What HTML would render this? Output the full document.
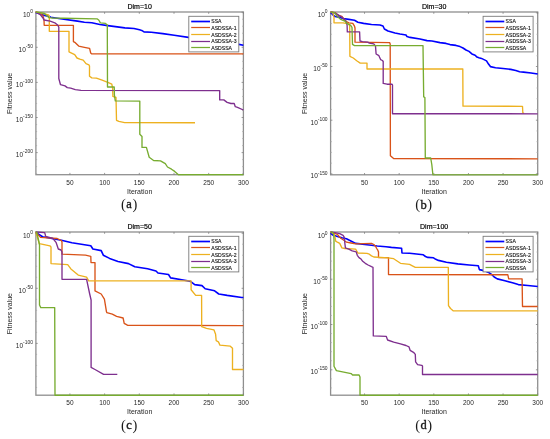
<!DOCTYPE html><html><head><meta charset="utf-8"><title>Convergence curves</title>
<style>html,body{margin:0;padding:0;background:#fff;}body{width:550px;height:439px;overflow:hidden;}svg{display:block;will-change:transform;}text{font-family:"Liberation Sans",sans-serif;}.cap{font-family:"Liberation Serif",serif;}</style></head><body>
<svg width="550" height="439" viewBox="0 0 550 439">
<rect width="550" height="439" fill="#fff"/>
<g><rect x="35.9" y="12" width="207.5" height="162.7" fill="#fff"/><clipPath id="c0"><rect x="34.9" y="11" width="209.5" height="164.7"/></clipPath><rect x="35.9" y="12" width="207.5" height="162.7" fill="none" stroke="#8f8f8f" stroke-width="1.3"/><path d="M69.91 174.7v-1.8M69.91 12v1.8M104.6 174.7v-1.8M104.6 12v1.8M139.3 174.7v-1.8M139.3 12v1.8M174 174.7v-1.8M174 12v1.8M208.7 174.7v-1.8M208.7 12v1.8M243.4 174.7v-1.8M243.4 12v1.8M35.9 12.2h1.8M243.4 12.2h-1.8M35.9 47.3h1.8M243.4 47.3h-1.8M35.9 82.4h1.8M243.4 82.4h-1.8M35.9 117.5h1.8M243.4 117.5h-1.8M35.9 152.6h1.8M243.4 152.6h-1.8" stroke="#808080" stroke-width="0.8" fill="none"/><path d="M35.9 19.22h1.2M243.4 19.22h-1.2M35.9 26.24h1.2M243.4 26.24h-1.2M35.9 33.26h1.2M243.4 33.26h-1.2M35.9 40.28h1.2M243.4 40.28h-1.2M35.9 54.32h1.2M243.4 54.32h-1.2M35.9 61.34h1.2M243.4 61.34h-1.2M35.9 68.36h1.2M243.4 68.36h-1.2M35.9 75.38h1.2M243.4 75.38h-1.2M35.9 89.42h1.2M243.4 89.42h-1.2M35.9 96.44h1.2M243.4 96.44h-1.2M35.9 103.46h1.2M243.4 103.46h-1.2M35.9 110.48h1.2M243.4 110.48h-1.2M35.9 124.52h1.2M243.4 124.52h-1.2M35.9 131.54h1.2M243.4 131.54h-1.2M35.9 138.56h1.2M243.4 138.56h-1.2M35.9 145.58h1.2M243.4 145.58h-1.2M35.9 159.62h1.2M243.4 159.62h-1.2M35.9 166.64h1.2M243.4 166.64h-1.2M35.9 173.66h1.2M243.4 173.66h-1.2" stroke="#a8a8a8" stroke-width="0.8" fill="none"/><g clip-path="url(#c0)" fill="none" stroke-linejoin="round" stroke-linecap="butt"><path d="M35.7 12.4 L43.4 15.1 L49.1 16.5 L50.8 17.3 L60.5 18.8 L77.5 21.1 L84.4 22.2 L91.8 22.8 L99.8 24.5 L107.8 25.6 L124.8 27.9 L134 28.5 L139.5 29.8 L141.7 30.4 L144 31.9 L151.4 32.3 L162.8 33.6 L174.2 35.3 L188.4 37.4 L214 40.5 L238.8 44.4 L243.4 45.3" stroke="#0000ff" stroke-width="1.6"/><path d="M35.7 12 L38.8 13.1 L42.8 15.4 L44 19.4 L44.2 25.3 L73.4 25.3 L73.4 41.6 L75.3 42.7 L78.7 46.1 L84.4 47.3 L89.6 48.4 L90.7 53 L91.8 53.9 L243.4 53.9" stroke="#d95319" stroke-width="1.35"/><path d="M35.7 12 L42.2 13.1 L48.5 14.8 L49.3 16 L49.3 31.3 L69 31.3 L69 51.8 L74.7 54.6 L77 58 L79.8 59.1 L83.2 60.2 L86 63.7 L88.9 64.8 L89.5 66 L89.5 76.2 L91.8 77.9 L96.4 78.2 L102.1 80.2 L107.8 82.4 L111.8 84.2 L112.6 88 L112.9 96.4 L116 97.5 L116.5 120.3 L118.9 121.4 L124.6 122.6 L195 122.7" stroke="#edb120" stroke-width="1.35"/><path d="M35.7 12 L40 14.3 L42.8 17.7 L44 20 L50.2 21.1 L54.8 22.8 L57.6 25.1 L58.8 27 L58.8 78.5 L60.5 84.7 L65 85.9 L67.3 87.6 L70.7 88.1 L75.3 89.6 L81 90.4 L219.7 90.6 L219.7 99.9 L223.8 99.9 L227.1 102.4 L230.9 103.5 L234.2 103.5 L235.3 106.7 L237.5 107.3 L243.4 110" stroke="#7e2f8e" stroke-width="1.35"/><path d="M35.7 12 L40 12.6 L44.5 13.5 L46.8 15.7 L49.1 17.7 L52.5 18 L97 18.8 L98.7 20 L100.4 22.8 L105.5 23.4 L107.3 25.1 L107.5 87 L114.2 87 L114.4 95 L115.3 100.9 L139.8 101.1 L139.8 134.3 L142 136.5 L142 147.4 L146.4 147.4 L149.2 157.2 L153.6 160.5 L160.5 160.9 L165.3 163.7 L167.5 167 L171.5 169.2 L174.7 171.4 L178.4 174.7 L243.4 174.7" stroke="#77ac30" stroke-width="1.35"/></g><text x="69.91" y="184.6" font-size="6.5" fill="#262626" text-anchor="middle">50</text><text x="104.6" y="184.6" font-size="6.5" fill="#262626" text-anchor="middle">100</text><text x="139.3" y="184.6" font-size="6.5" fill="#262626" text-anchor="middle">150</text><text x="174" y="184.6" font-size="6.5" fill="#262626" text-anchor="middle">200</text><text x="208.7" y="184.6" font-size="6.5" fill="#262626" text-anchor="middle">250</text><text x="243.4" y="184.6" font-size="6.5" fill="#262626" text-anchor="middle">300</text><text x="32.9" y="16.7" font-size="6.5" fill="#262626" text-anchor="end">10<tspan font-size="4.9" dy="-3.9">0</tspan></text><text x="32.9" y="51.8" font-size="6.5" fill="#262626" text-anchor="end">10<tspan font-size="4.9" dy="-3.9">-50</tspan></text><text x="32.9" y="86.9" font-size="6.5" fill="#262626" text-anchor="end">10<tspan font-size="4.9" dy="-3.9">-100</tspan></text><text x="32.9" y="122" font-size="6.5" fill="#262626" text-anchor="end">10<tspan font-size="4.9" dy="-3.9">-150</tspan></text><text x="32.9" y="157.1" font-size="6.5" fill="#262626" text-anchor="end">10<tspan font-size="4.9" dy="-3.9">-200</tspan></text><text x="139.65" y="8.8" font-size="7" fill="#000" font-weight="normal" stroke="#000" stroke-width="0.18" text-anchor="middle">Dim=10</text><text x="139.65" y="193.7" font-size="7" fill="#262626" text-anchor="middle">Iteration</text><text transform="translate(11.8 93.35) rotate(-90)" font-size="7" fill="#262626" text-anchor="middle" y="0">Fitness value</text><rect x="188.8" y="16.3" width="50" height="35.6" fill="#fff" stroke="#7a7a7a" stroke-width="0.9"/><path d="M191.2 21.5H210" stroke="#0000ff" stroke-width="1.7"/><text x="211.3" y="23.4" font-size="5.1" fill="#111" stroke="#111" stroke-width="0.12">SSA</text><path d="M191.2 27.5H210" stroke="#d95319" stroke-width="1.25"/><text x="211.3" y="30.05" font-size="5.1" fill="#111" stroke="#111" stroke-width="0.12">ASDSSA-1</text><path d="M191.2 34.5H210" stroke="#edb120" stroke-width="1.25"/><text x="211.3" y="36.7" font-size="5.1" fill="#111" stroke="#111" stroke-width="0.12">ASDSSA-2</text><path d="M191.2 41.5H210" stroke="#7e2f8e" stroke-width="1.25"/><text x="211.3" y="43.35" font-size="5.1" fill="#111" stroke="#111" stroke-width="0.12">ASDSSA-3</text><path d="M191.2 47.5H210" stroke="#77ac30" stroke-width="1.25"/><text x="211.3" y="50" font-size="5.1" fill="#111" stroke="#111" stroke-width="0.12">ASDSSA</text><text class="cap" x="129.15" y="209.2" font-size="14.5" fill="#1a1a1a" text-anchor="middle">(<tspan font-size="12.5" font-weight="normal" dx="0.3" dy="-0.8" stroke="#1a1a1a" stroke-width="0.35">a</tspan><tspan dx="0.6" dy="0.8">)</tspan></text></g>
<g><rect x="330.6" y="12" width="207.1" height="162.8" fill="#fff"/><clipPath id="c1"><rect x="329.6" y="11" width="209.1" height="164.8"/></clipPath><rect x="330.6" y="12" width="207.1" height="162.8" fill="none" stroke="#8f8f8f" stroke-width="1.3"/><path d="M364.54 174.8v-1.8M364.54 12v1.8M399.17 174.8v-1.8M399.17 12v1.8M433.8 174.8v-1.8M433.8 12v1.8M468.44 174.8v-1.8M468.44 12v1.8M503.07 174.8v-1.8M503.07 12v1.8M537.7 174.8v-1.8M537.7 12v1.8M330.6 12.8h1.8M537.7 12.8h-1.8M330.6 66.5h1.8M537.7 66.5h-1.8M330.6 120.2h1.8M537.7 120.2h-1.8M330.6 173.9h1.8M537.7 173.9h-1.8" stroke="#808080" stroke-width="0.8" fill="none"/><path d="M330.6 23.54h1.2M537.7 23.54h-1.2M330.6 34.28h1.2M537.7 34.28h-1.2M330.6 45.02h1.2M537.7 45.02h-1.2M330.6 55.76h1.2M537.7 55.76h-1.2M330.6 77.24h1.2M537.7 77.24h-1.2M330.6 87.98h1.2M537.7 87.98h-1.2M330.6 98.72h1.2M537.7 98.72h-1.2M330.6 109.46h1.2M537.7 109.46h-1.2M330.6 130.94h1.2M537.7 130.94h-1.2M330.6 141.68h1.2M537.7 141.68h-1.2M330.6 152.42h1.2M537.7 152.42h-1.2M330.6 163.16h1.2M537.7 163.16h-1.2" stroke="#a8a8a8" stroke-width="0.8" fill="none"/><g clip-path="url(#c1)" fill="none" stroke-linejoin="round" stroke-linecap="butt"><path d="M330.6 12.5 L332.3 14.3 L335.1 16.5 L338.5 17.1 L343.1 18.5 L348.8 19.4 L354.5 20.3 L357.9 22.2 L363.6 23.4 L371.5 24.5 L380 25 L383 26 L384.4 29 L388 31 L395 33 L400 34 L406 35 L407 36.6 L410 37.4 L420 39 L427 40.6 L432 41 L440 42.6 L446 43.4 L450 44.6 L456 45.4 L460 46.6 L463 48 L466 50 L469 51.4 L471.9 53.9 L475.1 55.2 L477 57.1 L478.9 57.7 L481.5 58.4 L484 59.6 L486.5 60.9 L488.5 64.1 L490.4 66.6 L495.5 67.7 L503.1 68.5 L510.7 69.4 L515.8 70.5 L519.6 71.7 L523.5 72.1 L531.1 73 L537.7 74" stroke="#0000ff" stroke-width="1.6"/><path d="M330.6 12 L335.1 12.6 L338.5 15.4 L341.9 16.5 L344.2 19.4 L346.5 21.7 L348.8 22.8 L352.8 23.4 L354.5 26.2 L355 28 L355 42.2 L389.6 42.6 L390.2 44 L390.4 155.8 L393.6 158.6 L537.7 158.8" stroke="#d95319" stroke-width="1.35"/><path d="M330.6 12 L332.8 13.1 L334 17.1 L334 22.8 L343.1 22.8 L345.9 23.4 L348.8 23.9 L349.7 26 L349.9 56.3 L353.3 58 L356.7 60.8 L360.2 63.1 L367 63.1 L367 69 L462.8 68.8 L463 106.2 L522.5 106.3 L522.8 112.8 L524 113.2" stroke="#edb120" stroke-width="1.35"/><path d="M330.6 12 L335.1 13.1 L341.9 17.1 L345.9 21.1 L347.1 25.1 L347.3 31.9 L359.6 31.9 L360 41 L362.4 41.6 L368.1 42.2 L369.3 43.1 L373.8 43.9 L375.5 46.1 L376.1 54 L378.9 55.7 L380.7 59.7 L382.4 60.5 L383.2 61.5 L383.2 83.4 L387 84.2 L392.1 84.2 L392.5 85 L392.5 113.7 L537.7 113.8" stroke="#7e2f8e" stroke-width="1.35"/><path d="M330.6 12 L334.5 12.6 L337.4 16.5 L340.8 19.4 L344.8 21.1 L347.6 23.9 L350.5 25.1 L352 27.4 L352.5 44.4 L354.5 45.6 L423 45.6 L423.7 96.8 L424.9 97.5 L425.3 158 L430.7 158 L431.8 164.5 L432.9 174.8 L537.7 174.8" stroke="#77ac30" stroke-width="1.35"/></g><text x="364.54" y="184.7" font-size="6.5" fill="#262626" text-anchor="middle">50</text><text x="399.17" y="184.7" font-size="6.5" fill="#262626" text-anchor="middle">100</text><text x="433.8" y="184.7" font-size="6.5" fill="#262626" text-anchor="middle">150</text><text x="468.44" y="184.7" font-size="6.5" fill="#262626" text-anchor="middle">200</text><text x="503.07" y="184.7" font-size="6.5" fill="#262626" text-anchor="middle">250</text><text x="537.7" y="184.7" font-size="6.5" fill="#262626" text-anchor="middle">300</text><text x="327.6" y="17.3" font-size="6.5" fill="#262626" text-anchor="end">10<tspan font-size="4.9" dy="-3.9">0</tspan></text><text x="327.6" y="71" font-size="6.5" fill="#262626" text-anchor="end">10<tspan font-size="4.9" dy="-3.9">-50</tspan></text><text x="327.6" y="124.7" font-size="6.5" fill="#262626" text-anchor="end">10<tspan font-size="4.9" dy="-3.9">-100</tspan></text><text x="327.6" y="178.4" font-size="6.5" fill="#262626" text-anchor="end">10<tspan font-size="4.9" dy="-3.9">-150</tspan></text><text x="434.15" y="8.8" font-size="7" fill="#000" font-weight="normal" stroke="#000" stroke-width="0.18" text-anchor="middle">Dim=30</text><text x="434.15" y="193.8" font-size="7" fill="#262626" text-anchor="middle">Iteration</text><text transform="translate(306.5 93.4) rotate(-90)" font-size="7" fill="#262626" text-anchor="middle" y="0">Fitness value</text><rect x="483.1" y="16.3" width="50" height="35.6" fill="#fff" stroke="#7a7a7a" stroke-width="0.9"/><path d="M485.5 21.5H504.3" stroke="#0000ff" stroke-width="1.7"/><text x="505.6" y="23.4" font-size="5.1" fill="#111" stroke="#111" stroke-width="0.12">SSA</text><path d="M485.5 27.5H504.3" stroke="#d95319" stroke-width="1.25"/><text x="505.6" y="30.05" font-size="5.1" fill="#111" stroke="#111" stroke-width="0.12">ASDSSA-1</text><path d="M485.5 34.5H504.3" stroke="#edb120" stroke-width="1.25"/><text x="505.6" y="36.7" font-size="5.1" fill="#111" stroke="#111" stroke-width="0.12">ASDSSA-2</text><path d="M485.5 41.5H504.3" stroke="#7e2f8e" stroke-width="1.25"/><text x="505.6" y="43.35" font-size="5.1" fill="#111" stroke="#111" stroke-width="0.12">ASDSSA-3</text><path d="M485.5 47.5H504.3" stroke="#77ac30" stroke-width="1.25"/><text x="505.6" y="50" font-size="5.1" fill="#111" stroke="#111" stroke-width="0.12">ASDSSA</text><text class="cap" x="423.65" y="209.3" font-size="14.5" fill="#1a1a1a" text-anchor="middle">(<tspan font-size="12.5" font-weight="normal" dx="0.3" dy="-0.8" stroke="#1a1a1a" stroke-width="0.35">b</tspan><tspan dx="0.6" dy="0.8">)</tspan></text></g>
<g><rect x="35.9" y="232" width="207.5" height="163.2" fill="#fff"/><clipPath id="c2"><rect x="34.9" y="231" width="209.5" height="165.2"/></clipPath><rect x="35.9" y="232" width="207.5" height="163.2" fill="none" stroke="#8f8f8f" stroke-width="1.3"/><path d="M69.91 395.2v-1.8M69.91 232v1.8M104.6 395.2v-1.8M104.6 232v1.8M139.3 395.2v-1.8M139.3 232v1.8M174 395.2v-1.8M174 232v1.8M208.7 395.2v-1.8M208.7 232v1.8M243.4 395.2v-1.8M243.4 232v1.8M35.9 233.2h1.8M243.4 233.2h-1.8M35.9 288.3h1.8M243.4 288.3h-1.8M35.9 343.4h1.8M243.4 343.4h-1.8" stroke="#808080" stroke-width="0.8" fill="none"/><path d="M35.9 244.22h1.2M243.4 244.22h-1.2M35.9 255.24h1.2M243.4 255.24h-1.2M35.9 266.26h1.2M243.4 266.26h-1.2M35.9 277.28h1.2M243.4 277.28h-1.2M35.9 299.32h1.2M243.4 299.32h-1.2M35.9 310.34h1.2M243.4 310.34h-1.2M35.9 321.36h1.2M243.4 321.36h-1.2M35.9 332.38h1.2M243.4 332.38h-1.2M35.9 354.42h1.2M243.4 354.42h-1.2M35.9 365.44h1.2M243.4 365.44h-1.2M35.9 376.46h1.2M243.4 376.46h-1.2M35.9 387.48h1.2M243.4 387.48h-1.2" stroke="#a8a8a8" stroke-width="0.8" fill="none"/><g clip-path="url(#c2)" fill="none" stroke-linejoin="round" stroke-linecap="butt"><path d="M35.7 232.5 L42.6 236.8 L61.4 240.2 L71.9 242.7 L90.8 245.8 L92.9 249 L101.2 250.6 L103.3 255.2 L109.6 258.4 L118 261.5 L128.5 263.6 L134.8 266.8 L147.6 268.8 L156 271 L158 273 L168.5 274.5 L170.6 277.9 L183.2 280 L190.5 281.4 L194.7 284.6 L202 285.6 L205.2 288.7 L214.6 290.8 L218.8 294 L227.2 295.4 L241.8 297.5 L243.4 297.5" stroke="#0000ff" stroke-width="1.6"/><path d="M35.7 232 L40.5 237.4 L57.2 238.5 L61.4 240.6 L62 242 L62 254.2 L85.5 255.2 L90.8 256.3 L91 262.6 L95 262.6 L95 290.9 L101.2 294 L104.4 299.2 L106.5 311.8 L106.9 312.6 L112.3 314.1 L116.6 316.3 L123.1 318 L124.2 323.4 L127.4 325.2 L243.4 325.6" stroke="#d95319" stroke-width="1.35"/><path d="M35.7 232 L39.4 243.7 L49.9 245.8 L51 247 L51 263.6 L67.7 264.7 L70.9 268.9 L78.2 275.1 L86.6 277.2 L88.7 280.8 L191.1 280.8 L191.1 289.8 L195.7 295.4 L201.6 295.4 L201.7 326.7 L206.5 328.4 L214 329.9 L215.6 334.2 L216.2 340.7 L218.4 341.8 L219.9 345.1 L230.3 346.2 L232.5 348.3 L232.5 369.5 L243.4 369.5" stroke="#edb120" stroke-width="1.35"/><path d="M35.7 232 L44.7 232.6 L45.7 236.4 L53 238.5 L56.2 242.7 L58.3 249 L61 250 L62 252 L62 279.3 L86.6 279.3 L89.7 294 L91.1 300 L91.1 367.4 L95 369.5 L103.6 374.3 L117.3 374.3" stroke="#7e2f8e" stroke-width="1.35"/><path d="M35.7 232 L36.7 232.2 L38.5 240 L39.5 245 L39.5 305 L40.8 307.6 L54.7 307.6 L55 395.2 L243.4 395.2" stroke="#77ac30" stroke-width="1.35"/></g><text x="69.91" y="405.1" font-size="6.5" fill="#262626" text-anchor="middle">50</text><text x="104.6" y="405.1" font-size="6.5" fill="#262626" text-anchor="middle">100</text><text x="139.3" y="405.1" font-size="6.5" fill="#262626" text-anchor="middle">150</text><text x="174" y="405.1" font-size="6.5" fill="#262626" text-anchor="middle">200</text><text x="208.7" y="405.1" font-size="6.5" fill="#262626" text-anchor="middle">250</text><text x="243.4" y="405.1" font-size="6.5" fill="#262626" text-anchor="middle">300</text><text x="32.9" y="237.7" font-size="6.5" fill="#262626" text-anchor="end">10<tspan font-size="4.9" dy="-3.9">0</tspan></text><text x="32.9" y="292.8" font-size="6.5" fill="#262626" text-anchor="end">10<tspan font-size="4.9" dy="-3.9">-50</tspan></text><text x="32.9" y="347.9" font-size="6.5" fill="#262626" text-anchor="end">10<tspan font-size="4.9" dy="-3.9">-100</tspan></text><text x="139.65" y="228.8" font-size="7" fill="#000" font-weight="normal" stroke="#000" stroke-width="0.18" text-anchor="middle">Dim=50</text><text x="139.65" y="414.2" font-size="7" fill="#262626" text-anchor="middle">Iteration</text><text transform="translate(11.8 313.6) rotate(-90)" font-size="7" fill="#262626" text-anchor="middle" y="0">Fitness value</text><rect x="188.8" y="236.3" width="50" height="35.6" fill="#fff" stroke="#7a7a7a" stroke-width="0.9"/><path d="M191.2 241.5H210" stroke="#0000ff" stroke-width="1.7"/><text x="211.3" y="243.4" font-size="5.1" fill="#111" stroke="#111" stroke-width="0.12">SSA</text><path d="M191.2 247.5H210" stroke="#d95319" stroke-width="1.25"/><text x="211.3" y="250.05" font-size="5.1" fill="#111" stroke="#111" stroke-width="0.12">ASDSSA-1</text><path d="M191.2 254.5H210" stroke="#edb120" stroke-width="1.25"/><text x="211.3" y="256.7" font-size="5.1" fill="#111" stroke="#111" stroke-width="0.12">ASDSSA-2</text><path d="M191.2 261.5H210" stroke="#7e2f8e" stroke-width="1.25"/><text x="211.3" y="263.35" font-size="5.1" fill="#111" stroke="#111" stroke-width="0.12">ASDSSA-3</text><path d="M191.2 267.5H210" stroke="#77ac30" stroke-width="1.25"/><text x="211.3" y="270" font-size="5.1" fill="#111" stroke="#111" stroke-width="0.12">ASDSSA</text><text class="cap" x="129.15" y="429.7" font-size="14.5" fill="#1a1a1a" text-anchor="middle">(<tspan font-size="12.5" font-weight="normal" dx="0.3" dy="-0.8" stroke="#1a1a1a" stroke-width="0.35">c</tspan><tspan dx="0.6" dy="0.8">)</tspan></text></g>
<g><rect x="330.6" y="232" width="207.1" height="163.2" fill="#fff"/><clipPath id="c3"><rect x="329.6" y="231" width="209.1" height="165.2"/></clipPath><rect x="330.6" y="232" width="207.1" height="163.2" fill="none" stroke="#8f8f8f" stroke-width="1.3"/><path d="M364.54 395.2v-1.8M364.54 232v1.8M399.17 395.2v-1.8M399.17 232v1.8M433.8 395.2v-1.8M433.8 232v1.8M468.44 395.2v-1.8M468.44 232v1.8M503.07 395.2v-1.8M503.07 232v1.8M537.7 395.2v-1.8M537.7 232v1.8M330.6 233.9h1.8M537.7 233.9h-1.8M330.6 279.2h1.8M537.7 279.2h-1.8M330.6 324.5h1.8M537.7 324.5h-1.8M330.6 369.8h1.8M537.7 369.8h-1.8" stroke="#808080" stroke-width="0.8" fill="none"/><path d="M330.6 242.96h1.2M537.7 242.96h-1.2M330.6 252.02h1.2M537.7 252.02h-1.2M330.6 261.08h1.2M537.7 261.08h-1.2M330.6 270.14h1.2M537.7 270.14h-1.2M330.6 288.26h1.2M537.7 288.26h-1.2M330.6 297.32h1.2M537.7 297.32h-1.2M330.6 306.38h1.2M537.7 306.38h-1.2M330.6 315.44h1.2M537.7 315.44h-1.2M330.6 333.56h1.2M537.7 333.56h-1.2M330.6 342.62h1.2M537.7 342.62h-1.2M330.6 351.68h1.2M537.7 351.68h-1.2M330.6 360.74h1.2M537.7 360.74h-1.2M330.6 378.86h1.2M537.7 378.86h-1.2M330.6 387.92h1.2M537.7 387.92h-1.2" stroke="#a8a8a8" stroke-width="0.8" fill="none"/><g clip-path="url(#c3)" fill="none" stroke-linejoin="round" stroke-linecap="butt"><path d="M330.6 233.1 L332.8 235.1 L337.4 236.5 L341.9 237.7 L346.5 238.8 L349.9 240.5 L353.3 242.2 L355.6 243.4 L360.2 243.9 L364.7 244.5 L371.5 245.3 L377.2 246 L386 246.8 L391.4 247.4 L401.6 248.3 L402 253 L409.6 253.3 L423.3 254.8 L425.5 256.5 L427.8 257.4 L433.5 257.8 L435.8 259.3 L438.4 260.4 L446.4 262.2 L457.8 263.9 L469.2 265 L478.3 265.8 L479.4 269.6 L482.8 270.4 L485.8 271.2 L488.5 272.4 L491.9 274.7 L494.2 277 L497.3 278.9 L504.9 280.8 L512.5 282.7 L518.3 284.6 L527.8 285.5 L537.7 286.5" stroke="#0000ff" stroke-width="1.6"/><path d="M330.6 232 L332.8 232.6 L337.4 234.3 L339.1 236.5 L340.8 238.2 L344.2 240.5 L346.5 242.2 L351 243 L355.6 243.9 L363.6 243.7 L371.5 243.4 L373.8 244.5 L375.5 246.2 L376.7 248.5 L377.8 250.2 L378.5 252 L378.5 257.6 L388.5 257.6 L388.5 274.6 L507.8 274.7 L508.7 278.9 L522.1 278.9 L522.5 306.5 L537.7 306.5" stroke="#d95319" stroke-width="1.35"/><path d="M330.6 232 L334 234.3 L335.1 237.7 L335.7 241.1 L337.4 242.2 L339.7 243.4 L340.8 245.6 L341.9 247.9 L344.8 248.5 L355.6 249.1 L357.9 253 L367 253.3 L369.3 254.2 L371.5 255.9 L373.8 257 L388 257.8 L393.7 258.7 L397.1 261 L400.5 263.3 L409.6 264.4 L411.9 265.6 L415.3 267.3 L448.3 267.3 L448.5 305.6 L450.5 308.5 L453.4 310.9 L537.7 310.9" stroke="#edb120" stroke-width="1.35"/><path d="M330.6 232 L335.1 232.6 L339.7 233.7 L343.1 235.4 L344.2 237.1 L344.8 242.8 L345.4 247.9 L348.8 249.1 L352.2 250.8 L356.2 251.9 L357.3 255.3 L359 257.6 L361.3 259.3 L362.4 261 L365.3 263.3 L368.1 265 L371.5 266.7 L373 267.3 L373.3 335.9 L386.2 336.3 L387.6 340 L393.7 342.1 L400.5 343.9 L406 345.5 L409 346.9 L410.1 350.3 L413.5 352.3 L415.3 354.4 L415.6 361.9 L417.6 364.6 L421.7 365.3 L422.5 366 L422.5 374.5 L537.7 374.5" stroke="#7e2f8e" stroke-width="1.35"/><path d="M330.6 232 L332.8 232.3 L333.7 234.8 L334 240 L334 366.2 L336.4 370.6 L343.8 372.1 L351.1 373.6 L352.6 375 L359.1 375 L360 377 L360 395.2 L537.7 395.2" stroke="#77ac30" stroke-width="1.35"/></g><text x="364.54" y="405.1" font-size="6.5" fill="#262626" text-anchor="middle">50</text><text x="399.17" y="405.1" font-size="6.5" fill="#262626" text-anchor="middle">100</text><text x="433.8" y="405.1" font-size="6.5" fill="#262626" text-anchor="middle">150</text><text x="468.44" y="405.1" font-size="6.5" fill="#262626" text-anchor="middle">200</text><text x="503.07" y="405.1" font-size="6.5" fill="#262626" text-anchor="middle">250</text><text x="537.7" y="405.1" font-size="6.5" fill="#262626" text-anchor="middle">300</text><text x="327.6" y="238.4" font-size="6.5" fill="#262626" text-anchor="end">10<tspan font-size="4.9" dy="-3.9">0</tspan></text><text x="327.6" y="283.7" font-size="6.5" fill="#262626" text-anchor="end">10<tspan font-size="4.9" dy="-3.9">-50</tspan></text><text x="327.6" y="329" font-size="6.5" fill="#262626" text-anchor="end">10<tspan font-size="4.9" dy="-3.9">-100</tspan></text><text x="327.6" y="374.3" font-size="6.5" fill="#262626" text-anchor="end">10<tspan font-size="4.9" dy="-3.9">-150</tspan></text><text x="434.15" y="228.8" font-size="7" fill="#000" font-weight="normal" stroke="#000" stroke-width="0.18" text-anchor="middle">Dim=100</text><text x="434.15" y="414.2" font-size="7" fill="#262626" text-anchor="middle">Iteration</text><text transform="translate(306.5 313.6) rotate(-90)" font-size="7" fill="#262626" text-anchor="middle" y="0">Fitness value</text><rect x="483.1" y="236.3" width="50" height="35.6" fill="#fff" stroke="#7a7a7a" stroke-width="0.9"/><path d="M485.5 241.5H504.3" stroke="#0000ff" stroke-width="1.7"/><text x="505.6" y="243.4" font-size="5.1" fill="#111" stroke="#111" stroke-width="0.12">SSA</text><path d="M485.5 247.5H504.3" stroke="#d95319" stroke-width="1.25"/><text x="505.6" y="250.05" font-size="5.1" fill="#111" stroke="#111" stroke-width="0.12">ASDSSA-1</text><path d="M485.5 254.5H504.3" stroke="#edb120" stroke-width="1.25"/><text x="505.6" y="256.7" font-size="5.1" fill="#111" stroke="#111" stroke-width="0.12">ASDSSA-2</text><path d="M485.5 261.5H504.3" stroke="#7e2f8e" stroke-width="1.25"/><text x="505.6" y="263.35" font-size="5.1" fill="#111" stroke="#111" stroke-width="0.12">ASDSSA-3</text><path d="M485.5 267.5H504.3" stroke="#77ac30" stroke-width="1.25"/><text x="505.6" y="270" font-size="5.1" fill="#111" stroke="#111" stroke-width="0.12">ASDSSA</text><text class="cap" x="423.65" y="429.7" font-size="14.5" fill="#1a1a1a" text-anchor="middle">(<tspan font-size="12.5" font-weight="normal" dx="0.3" dy="-0.8" stroke="#1a1a1a" stroke-width="0.35">d</tspan><tspan dx="0.6" dy="0.8">)</tspan></text></g>
</svg></body></html>
